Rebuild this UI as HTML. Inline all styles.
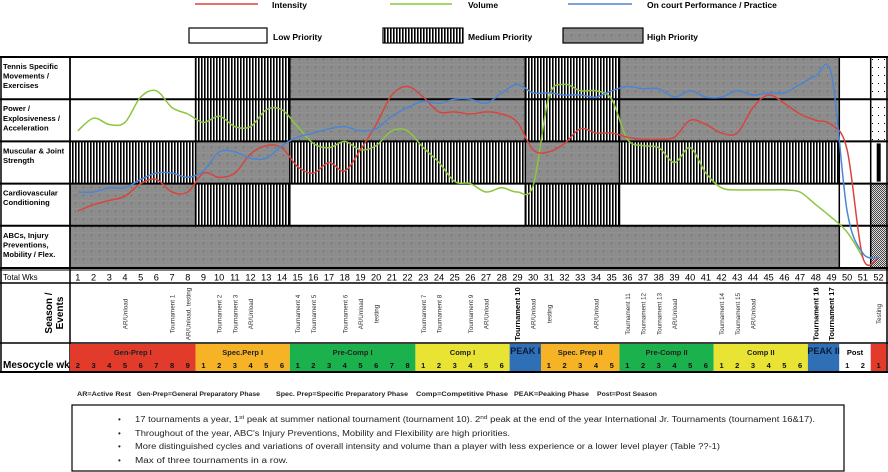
<!DOCTYPE html>
<html><head><meta charset="utf-8"><style>
html,body{margin:0;padding:0;background:#fff;}
svg{display:block;font-family:"Liberation Sans",Arial,sans-serif;}
</style></head><body>
<svg id="chart" width="888" height="472" viewBox="0 0 888 472" xmlns="http://www.w3.org/2000/svg">
<defs>
<pattern id="stripes" width="3" height="10" patternUnits="userSpaceOnUse"><rect width="3" height="10" fill="#fff"/><rect width="1.6" height="10" fill="#000"/></pattern>
<pattern id="gray" width="8" height="8" patternUnits="userSpaceOnUse"><rect width="8" height="8" fill="#8c8c8c"/><rect x="3" y="3" width="1" height="1" fill="#5a5a5a"/><rect x="0" y="0" width="8" height="1" fill="#939393"/></pattern>
<pattern id="dots" width="6" height="8" patternUnits="userSpaceOnUse"><rect width="6" height="8" fill="#fff"/><rect x="2" y="3" width="1" height="1" fill="#000"/></pattern>
<pattern id="checker" width="2" height="2" patternUnits="userSpaceOnUse"><rect width="2" height="2" fill="#ddd"/><rect width="1" height="1" fill="#444"/><rect x="1" y="1" width="1" height="1" fill="#444"/></pattern>
</defs>

<g>
 <line x1="195" y1="4" x2="258" y2="4" stroke="#d9453d" stroke-width="1.5"/>
 <text x="272" y="8" font-size="8.5" font-weight="bold">Intensity</text>
 <line x1="390" y1="4" x2="452" y2="4" stroke="#8cc63e" stroke-width="1.5"/>
 <text x="468" y="8" font-size="8.5" font-weight="bold">Volume</text>
 <line x1="568" y1="4" x2="632" y2="4" stroke="#4a86d4" stroke-width="1.5"/>
 <text x="647" y="8" font-size="8.5" font-weight="bold">On court Performance / Practice</text>
 <rect x="189" y="28" width="78" height="15" fill="#fff" stroke="#000" stroke-width="1.2"/>
 <text x="273" y="40" font-size="8.5" font-weight="bold">Low Priority</text>
 <rect x="383" y="28" width="80" height="15" fill="url(#stripes)" stroke="#000" stroke-width="1.2"/>
 <text x="468" y="40" font-size="8.5" font-weight="bold">Medium Priority</text>
 <rect x="563" y="28" width="80" height="15" fill="url(#gray)" stroke="#000" stroke-width="1.2"/>
 <text x="647" y="40" font-size="8.5" font-weight="bold">High Priority</text>
</g>

<g id="grid"></g>
<g id="lines"></g>
<g id="rowsBottom"></g>

<g font-size="6.3" font-weight="bold" fill="#222">
 <text x="77" y="396" textLength="54" lengthAdjust="spacingAndGlyphs">AR=Active Rest</text>
 <text x="137" y="396" textLength="123" lengthAdjust="spacingAndGlyphs">Gen-Prep=General Preparatory Phase</text>
 <text x="276" y="396" textLength="132" lengthAdjust="spacingAndGlyphs">Spec. Prep=Specific Preparatory Phase</text>
 <text x="416" y="396" textLength="92" lengthAdjust="spacingAndGlyphs">Comp=Competitive Phase</text>
 <text x="514" y="396" textLength="75" lengthAdjust="spacingAndGlyphs">PEAK=Peaking Phase</text>
 <text x="597" y="396" textLength="60" lengthAdjust="spacingAndGlyphs">Post=Post Season</text>
</g>
<g>
 <rect x="72" y="405" width="772" height="66" fill="#fff" stroke="#000" stroke-width="1.2"/>
 <g font-size="8" fill="#222">
  <text x="118" y="422">•</text><text x="135" y="422" textLength="680" lengthAdjust="spacingAndGlyphs">17 tournaments a year, 1<tspan font-size="5.5" dy="-3">st</tspan><tspan dy="3"> peak at summer national tournament (tournament 10). 2</tspan><tspan font-size="5.5" dy="-3">nd</tspan><tspan dy="3"> peak at the end of the year International Jr. Tournaments (tournament 16&amp;17).</tspan></text>
  <text x="118" y="436">•</text><text x="135" y="436" textLength="375" lengthAdjust="spacingAndGlyphs">Throughout of the year, ABC's Injury Preventions, Mobility and Flexibility are high priorities.</text>
  <text x="118" y="449">•</text><text x="135" y="449" textLength="585" lengthAdjust="spacingAndGlyphs">More distinguished cycles and variations of overall intensity and volume than a player with less experience or a lower level player (Table ??-1)</text>
  <text x="118" y="463">•</text><text x="135" y="463" textLength="153" lengthAdjust="spacingAndGlyphs">Max of three tournaments in a row.</text>
 </g>
</g>
</svg>
<script>
const weeks = Array.from({length:52},(_,i)=>i+1);
const rowLabels = [["Tennis Specific","Movements /","Exercises"],["Power /","Explosiveness /","Acceleration"],["Muscular & Joint","Strength"],["Cardiovascular","Conditioning"],["ABCs, Injury","Preventions,","Mobility / Flex."]];
// priority segments per row: [startWeek, endWeek, level]
const priorityRow1 = [[1,8,"low"],[9,14,"med"],[15,29,"high"],[30,35,"med"],[36,49,"high"],[50,51,"low"],[52,52,"dots"]];
const priorityRow2 = [[1,8,"low"],[9,14,"med"],[15,29,"high"],[30,35,"med"],[36,49,"high"],[50,51,"low"],[52,52,"dots"]];
const priorityRow3 = [[1,8,"med"],[9,14,"high"],[15,29,"med"],[30,35,"high"],[36,49,"med"],[50,51,"low"],[52,52,"bar"]];
const priorityRow4 = [[1,8,"high"],[9,14,"med"],[15,29,"low"],[30,35,"med"],[36,49,"low"],[50,51,"low"],[52,52,"checker"]];
const priorityRow5 = [[1,49,"high"],[50,51,"low"],[52,52,"checker"]];
const priorities = [priorityRow1,priorityRow2,priorityRow3,priorityRow4,priorityRow5];
// series values (0-100 scale), one per week
const intensity = [27,30,32,34,40,42,36,36,45,43,45,54,58,57,48,45,50,46,56,68,82,86,81,74,74,73,74,73,69,56,55,59,66,64,64,62,61,61,62,70,68,64,64,76,82,78,73,70,68,56,5,5];
const volume = [65,71,68,69,81,84,76,73,69,72,67,67,75,75,67,59,57,60,56,58,65,65,57,50,41,40,36,38,36,39,81,87,84,84,80,61,58,57,50,57,45,38,37,37,37,37,36,30,24,17,5];
const performance = [36,36,38,38,42,45,45,43,46,55,55,52,52,58,62,64,66,67,65,66,72,76,79,78,80,80,78,83,87,83,83,82,82,81,84,86,85,85,81,84,81,81,84,82,83,83,87,91,92,27,7,5];
const events = [[4,"AR/Unload",0],[7,"Tournament 1",0],[8,"AR/Unload, testing",0],[10,"Tournament 2",0],[11,"Tournament 3",0],[12,"AR/Unload",0],[15,"Tournament 4",0],[16,"Tournament 5",0],[18,"Tournament 6",0],[19,"AR/Unload",0],[20,"testing",0],[23,"Tournament 7",0],[24,"Tournament 8",0],[26,"Tournament 9",0],[27,"AR/Unload",0],[29,"Tournament 10",1],[30,"AR/Unload",0],[31,"testing",0],[34,"AR/Unload",0],[36,"Tournament 11",0],[37,"Tournament 12",0],[38,"Tournament 13",0],[39,"AR/Unload",0],[42,"Tournament 14",0],[43,"Tournament 15",0],[44,"AR/Unload",0],[48,"Tournament 16",1],[49,"Tournament 17",1],[52,"Testing",0]];
const mesoNames = ["Gen-Prep I","Spec.Perp I","Pre-Comp I","Comp I","PEAK I","Spec. Prep II","Pre-Comp II","Comp II","PEAK II","Post",""];
const mesoStart = [1,9,15,23,29,31,36,42,48,50,52];
const mesoEnd = [8,14,22,28,30,35,41,47,49,51,52];
const mesoFirstWk = [2,1,1,1,0,1,1,1,0,1,1];
const mesoColors = ["#e23a2b","#f5b325","#1bb14c","#e9e434","#2f6fb6","#f5b325","#1bb14c","#e9e434","#2f6fb6","#ffffff","#e23a2b"];

const NS="http://www.w3.org/2000/svg";
const X0=70, CW=15.7, TOP=57, RH=42.2, BOT=268;
const xL = w => X0+(w-1)*CW;
const xC = w => X0+(w-0.5)*CW;
const yV = v => BOT - v*2.11;
function mk(tag, attrs, parent){const e=document.createElementNS(NS,tag);for(const k in attrs)e.setAttribute(k,attrs[k]);parent.appendChild(e);return e;}

const grid=document.getElementById('grid');
const fills={low:"#fff",med:"url(#stripes)",high:"url(#gray)",dots:"url(#dots)",checker:"url(#checker)",bar:"#fff"};
priorities.forEach((segs,r)=>{
  const y=TOP+r*RH;
  segs.forEach(s=>{
    const rc=mk('rect',{x:xL(s[0]),y:y,width:(s[1]-s[0]+1)*CW,height:RH,fill:fills[s[2]]},grid);
    
    
    if(s[2]==="bar"){const b=mk('rect',{x:xL(s[0])+6,y:y+2,width:4,height:RH-4,fill:"#000"},grid);
      
      }
  });
  segs.forEach(s=>{mk('line',{x1:xL(s[0]),y1:y,x2:xL(s[0]),y2:y+RH,stroke:"#000","stroke-width":1.5},grid);});
  const lab=mk('text',{x:3,y:y+12,"font-size":7.6,"font-weight":"bold"},grid);
  
  
  rowLabels[r].forEach((t,i)=>{const ts=mk('tspan',{x:3,dy:i?9.6:0},lab);ts.textContent=t;});
  mk('line',{x1:0,y1:y,x2:888,y2:y,stroke:"#000","stroke-width":2},grid);
});
mk('line',{x1:0,y1:BOT,x2:888,y2:BOT,stroke:"#000","stroke-width":2},grid);
mk('line',{x1:1,y1:TOP,x2:1,y2:372,stroke:"#000","stroke-width":1.5},grid);
mk('line',{x1:X0,y1:TOP,x2:X0,y2:372,stroke:"#000","stroke-width":1.5},grid);
mk('line',{x1:887,y1:TOP,x2:887,y2:372,stroke:"#000","stroke-width":1.5},grid);

const lg=document.getElementById('lines');
function pathFor(vals){
  const p=vals.map((v,i)=>[xC(i+1),yV(v)]);
  let d="M"+p[0][0].toFixed(1)+","+p[0][1].toFixed(1);
  for(let i=0;i<p.length-1;i++){
    const p0=p[i-1]||p[i],p1=p[i],p2=p[i+1],p3=p[i+2]||p2;
    const c1=[p1[0]+(p2[0]-p0[0])/6,p1[1]+(p2[1]-p0[1])/6];
    const c2=[p2[0]-(p3[0]-p1[0])/6,p2[1]-(p3[1]-p1[1])/6];
    d+=` C${c1[0].toFixed(1)},${c1[1].toFixed(1)} ${c2[0].toFixed(1)},${c2[1].toFixed(1)} ${p2[0].toFixed(1)},${p2[1].toFixed(1)}`;
  }
  return d;
}
const volPath=mk('path',{d:pathFor(volume),fill:"none",stroke:"#8cc63e","stroke-width":1.5},lg);


const intPath=mk('path',{d:pathFor(intensity),fill:"none",stroke:"#d9453d","stroke-width":1.5},lg);


const perfPath=mk('path',{d:pathFor(performance),fill:"none",stroke:"#4a86d4","stroke-width":1.5},lg);



const bg=document.getElementById('rowsBottom');
mk('line',{x1:0,y1:270,x2:888,y2:270,stroke:"#000","stroke-width":1},bg);
mk('line',{x1:0,y1:283,x2:888,y2:283,stroke:"#000","stroke-width":1.5},bg);
mk('line',{x1:0,y1:343,x2:888,y2:343,stroke:"#000","stroke-width":1.5},bg);
mk('line',{x1:0,y1:372,x2:888,y2:372,stroke:"#000","stroke-width":2},bg);
const tw=mk('text',{x:3,y:280,"font-size":8},bg);tw.textContent="Total Wks";


weeks.forEach(w=>{const t=mk('text',{x:xC(w),y:280.5,"font-size":9.2,"text-anchor":"middle"},bg);t.textContent=w;
  
  });
const se=mk('text',{transform:"translate(52,313) rotate(-90)","font-size":10,"font-weight":"bold","text-anchor":"middle"},bg);


mk('tspan',{x:0,dy:0},se).textContent="Season /";
mk('tspan',{x:0,dy:11},se).textContent="Events";
events.forEach(e=>{
  const t=mk('text',{transform:`translate(${xC(e[0])+2.5},314) rotate(-90)`,"font-size":e[2]?7.5:6.3,"font-weight":e[2]?"bold":"normal","text-anchor":"middle",fill:e[2]?"#000":"#333"},bg);
  t.textContent=e[1];
  
  
});
const ml=mk('text',{x:3,y:368,"font-size":10,"font-weight":"bold"},bg);ml.textContent="Mesocycle wk";


mesoNames.forEach((n,i)=>{
  const x=xL(mesoStart[i]), w=(mesoEnd[i]-mesoStart[i]+1)*CW;
  const r=mk('rect',{x:x,y:344,width:w,height:27,fill:mesoColors[i]},bg);
  
  
  const peak=n.startsWith("PEAK");
  if(n){const t=mk('text',{x:x+w/2,y:peak?354:355,"font-size":peak?9:7.5,"font-weight":"bold","text-anchor":"middle",fill:peak?"#0b1a3a":(n==="Post"?"#000":"#222")},bg);t.textContent=n;}
  if(mesoFirstWk[i]>0){
    for(let k=mesoStart[i];k<=mesoEnd[i];k++){
      const t=mk('text',{x:xC(k),y:368,"font-size":7.5,"font-weight":"bold","text-anchor":"middle",fill:"#111"},bg);
      t.textContent=mesoFirstWk[i]+k-mesoStart[i];
    }
  }
});
</script>
</body></html>
